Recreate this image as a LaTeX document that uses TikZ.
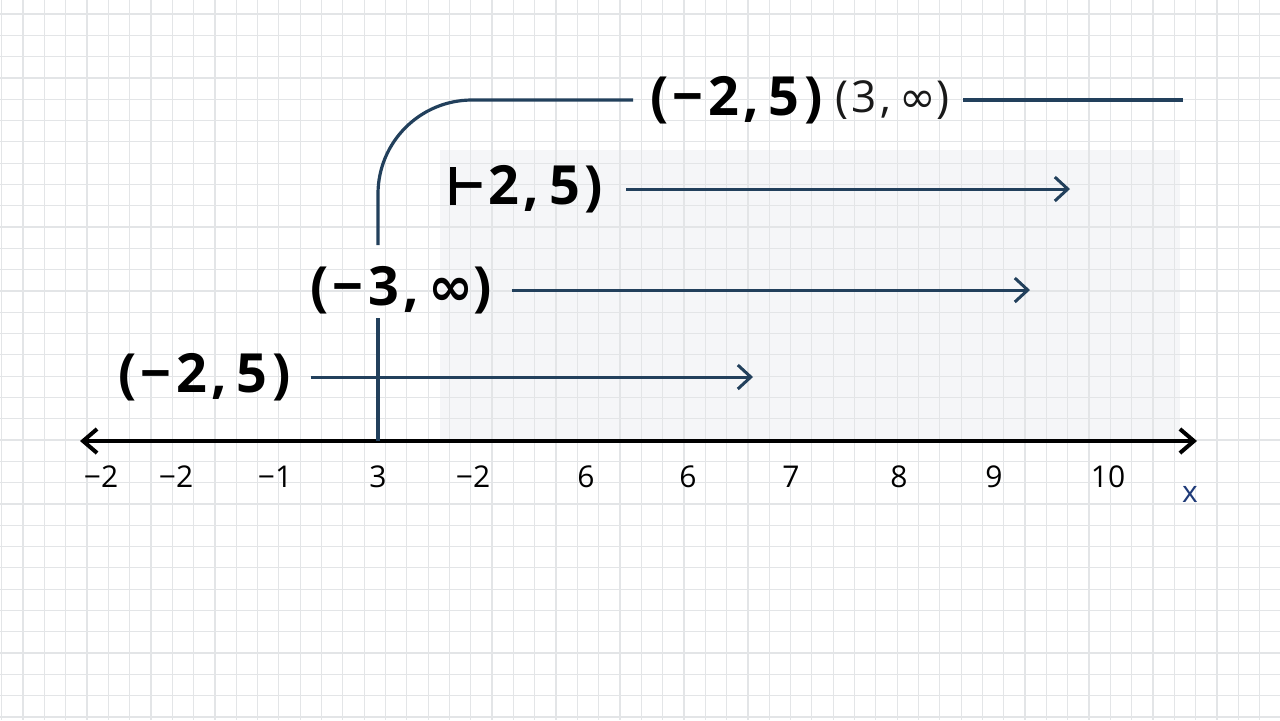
\documentclass[tikz,border=0pt]{standalone}
\usepackage{fontspec}
\setmainfont{Open Sans}
\newfontfamily\symf{DejaVu Sans}
\usetikzlibrary{arrows.meta}
\definecolor{navy}{HTML}{22405C}
\definecolor{gridc}{HTML}{E3E5E7}
\definecolor{shadec}{HTML}{F5F6F8}
\definecolor{xblue}{HTML}{1E3A78}
\begin{document}
\begin{tikzpicture}[x=0.5pt,y=-0.5pt,
  big/.style={font=\fontsize{27}{31}\selectfont\bfseries\addfontfeature{LetterSpace=8}, inner sep=0pt, text=black},
  mid/.style={font=\fontsize{22}{26}\selectfont\addfontfeature{LetterSpace=8}, inner sep=0pt, text=black!90},
  tick/.style={font=\fontsize{15}{18}\selectfont, inner sep=0pt, text=black},
  barb/.tip={Straight Barb[length=6.5pt,width=12pt,line width=1.5pt]},
  bigbarb/.tip={Straight Barb[length=7pt,width=12pt,line width=2pt]},
  arr/.style={draw=navy, line width=1.5pt, -barb},
  curve/.style={draw=navy, line width=1.6pt},
]
\useasboundingbox (0,0) rectangle (1280,720);
\fill[white] (0,0) rectangle (1280,720);
\fill[shadec] (440,150) rectangle (1180,440);
\foreach \i in {0,...,60} \draw[gridc, line width=0.6pt] ({1.7+21.32*\i},0) -- ++(0,720);
\foreach \j in {0,...,34} \draw[gridc, line width=0.6pt] (0,{14+21.3*\j}) -- ++(1280,0);

% axis
\coordinate (axl) at (80,441);
\coordinate (axr) at (1197,441);
\draw[black, line width=2pt, bigbarb-bigbarb] (axl) -- (axr);

% labels
\node[big, anchor=west] (l1) at (650,100) {(−2,\kern5pt 5)};
\node[mid, anchor=west] (l1b) at (835,100) {(3,\kern4pt{\symf ∞})};
\node[big, anchor=west] (l2) at (450,189) {\rule[-0.5pt]{3pt}{19pt}\kern-1.4pt−2,\kern5pt 5)};
\node[big, anchor=west] (l3) at (310,290) {(−3,\kern5pt{\symf\bfseries ∞})};
\node[big, anchor=west] (l4) at (118,377) {(−2,\kern5pt 5)};

% top curve
\coordinate (vb) at (378,441);
\coordinate (vg1) at (378,318);
\coordinate (vg2) at (378,245);
\coordinate (tend) at (1183,100);
\draw[curve] (vb) -- (vg1);
\draw[curve, rounded corners=47pt] (vg2) |- ([xshift=-8.5pt]l1.west);
\draw[curve] ([xshift=7pt]l1b.east) -- (l1b.east -| tend);

% arrows
\coordinate (e2) at (1070,189);
\coordinate (e3) at (1030,290);
\coordinate (e4) at (753,376);
\draw[arr] ([xshift=11.5pt]l2.east) -- (l2.east -| e2);
\draw[arr] ([xshift=9.5pt]l3.east) -- (l3.east -| e3);
\draw[arr] ([xshift=10pt]l4.east) -- (l4.east -| e4);

% ticks
\foreach \x/\t [count=\k] in {101/−2, 176/−2, 275/−1, 378/3, 473/−2, 586/6, 688/6, 791/7, 899/8, 994/9, 1108/10}
  \node[tick] (t\k) at (\x,477) {\t};
\node[tick, text=xblue] (xl) at (1190,494) {x};
\end{tikzpicture}
\end{document}
